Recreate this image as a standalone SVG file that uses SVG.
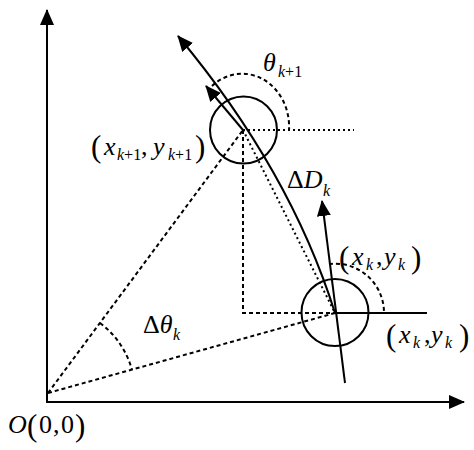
<svg xmlns="http://www.w3.org/2000/svg" width="474" height="450" viewBox="0 0 474 450">
<defs>
<marker id="ah" viewBox="0 0 16 14" refX="15" refY="7" markerWidth="16" markerHeight="14" markerUnits="userSpaceOnUse" orient="auto">
<path d="M0,0 L16,7 L0,14 z" fill="#000"/>
</marker>
<style>
.s{fill:none;stroke:#000;stroke-width:2}
.d{fill:none;stroke:#000;stroke-width:2;stroke-dasharray:4 3}
.o{fill:none;stroke:#000;stroke-width:2;stroke-dasharray:2 3}
text{font-family:"Liberation Serif","Times New Roman",serif;font-size:26px;fill:#000}
.i{font-style:italic}
.sb{font-size:16px}
.p{font-size:31px}
</style>
</defs>
<g id="axes">
<line class="s" x1="47" y1="402" x2="47" y2="10" marker-end="url(#ah)"/>
<line class="s" x1="46" y1="402" x2="464" y2="402" marker-end="url(#ah)"/>
</g>
<g id="connectors">
<line class="d" x1="48" y1="393" x2="243" y2="130"/>
<line class="d" x1="48" y1="393" x2="335" y2="313"/>
<line class="o" x1="243" y1="130" x2="335" y2="313"/>
<polyline class="d" points="243,130 243,313 335,313"/>
<line class="o" x1="243" y1="130" x2="354" y2="130"/>
<line class="s" x1="335" y1="313" x2="427" y2="313"/>
<path class="d" d="M100,323 A87,87 0 0 1 132,370"/>
<path class="d" d="M212,86 A47,53 0 0 1 289,130"/>
<path class="d" d="M329,264 A49,49 0 0 1 384,313"/>
<path class="s" d="M335,313 Q290,170 178,36" marker-end="url(#ah)"/>
<line class="s" x1="243" y1="130" x2="206" y2="86" marker-end="url(#ah)"/>
<line class="s" x1="345" y1="383" x2="322" y2="201" marker-end="url(#ah)"/>
</g>
<g id="node-k1">
<circle class="s" cx="243.5" cy="130" r="33.5"/>
</g>
<g id="node-k">
<circle class="s" cx="335" cy="312.5" r="33.5"/>
</g>
<g id="labels">
<text x="263" y="71"><tspan class="i">θ</tspan><tspan class="sb" x="278" y="77"><tspan class="i">k</tspan>+1</tspan></text>
<text><tspan class="p" x="91" y="157">(</tspan><tspan class="i" x="104" y="155">x</tspan><tspan class="sb" x="117" y="160"><tspan class="i">k</tspan>+1</tspan><tspan x="141" y="155">,</tspan><tspan class="i" x="153" y="155">y</tspan><tspan class="sb" x="168" y="160"><tspan class="i">k</tspan>+1</tspan><tspan class="p" x="195" y="157">)</tspan></text>
<text x="287" y="188">Δ<tspan class="i">D</tspan><tspan class="sb i" x="323" y="196">k</tspan></text>
<text><tspan class="p" x="339" y="268">(</tspan><tspan class="i" x="352" y="265">x</tspan><tspan class="sb i" x="366" y="270">k</tspan><tspan x="376" y="265">,</tspan><tspan class="i" x="384" y="265">y</tspan><tspan class="sb i" x="398" y="270">k</tspan><tspan class="p" x="411" y="268">)</tspan></text>
<text><tspan class="p" x="386" y="346">(</tspan><tspan class="i" x="399" y="343">x</tspan><tspan class="sb i" x="413" y="348">k</tspan><tspan x="424" y="343">,</tspan><tspan class="i" x="431" y="343">y</tspan><tspan class="sb i" x="445" y="348">k</tspan><tspan class="p" x="459" y="346">)</tspan></text>
<text x="143" y="333">Δ<tspan class="i">θ</tspan><tspan class="sb i" x="173" y="340">k</tspan></text>
<text><tspan class="i" x="8" y="433">O</tspan><tspan class="p" x="27" y="436">(</tspan><tspan x="39" y="433">0</tspan><tspan x="53" y="433">,</tspan><tspan x="61" y="433">0</tspan><tspan class="p" x="75" y="436">)</tspan></text>
</g>
</svg>
